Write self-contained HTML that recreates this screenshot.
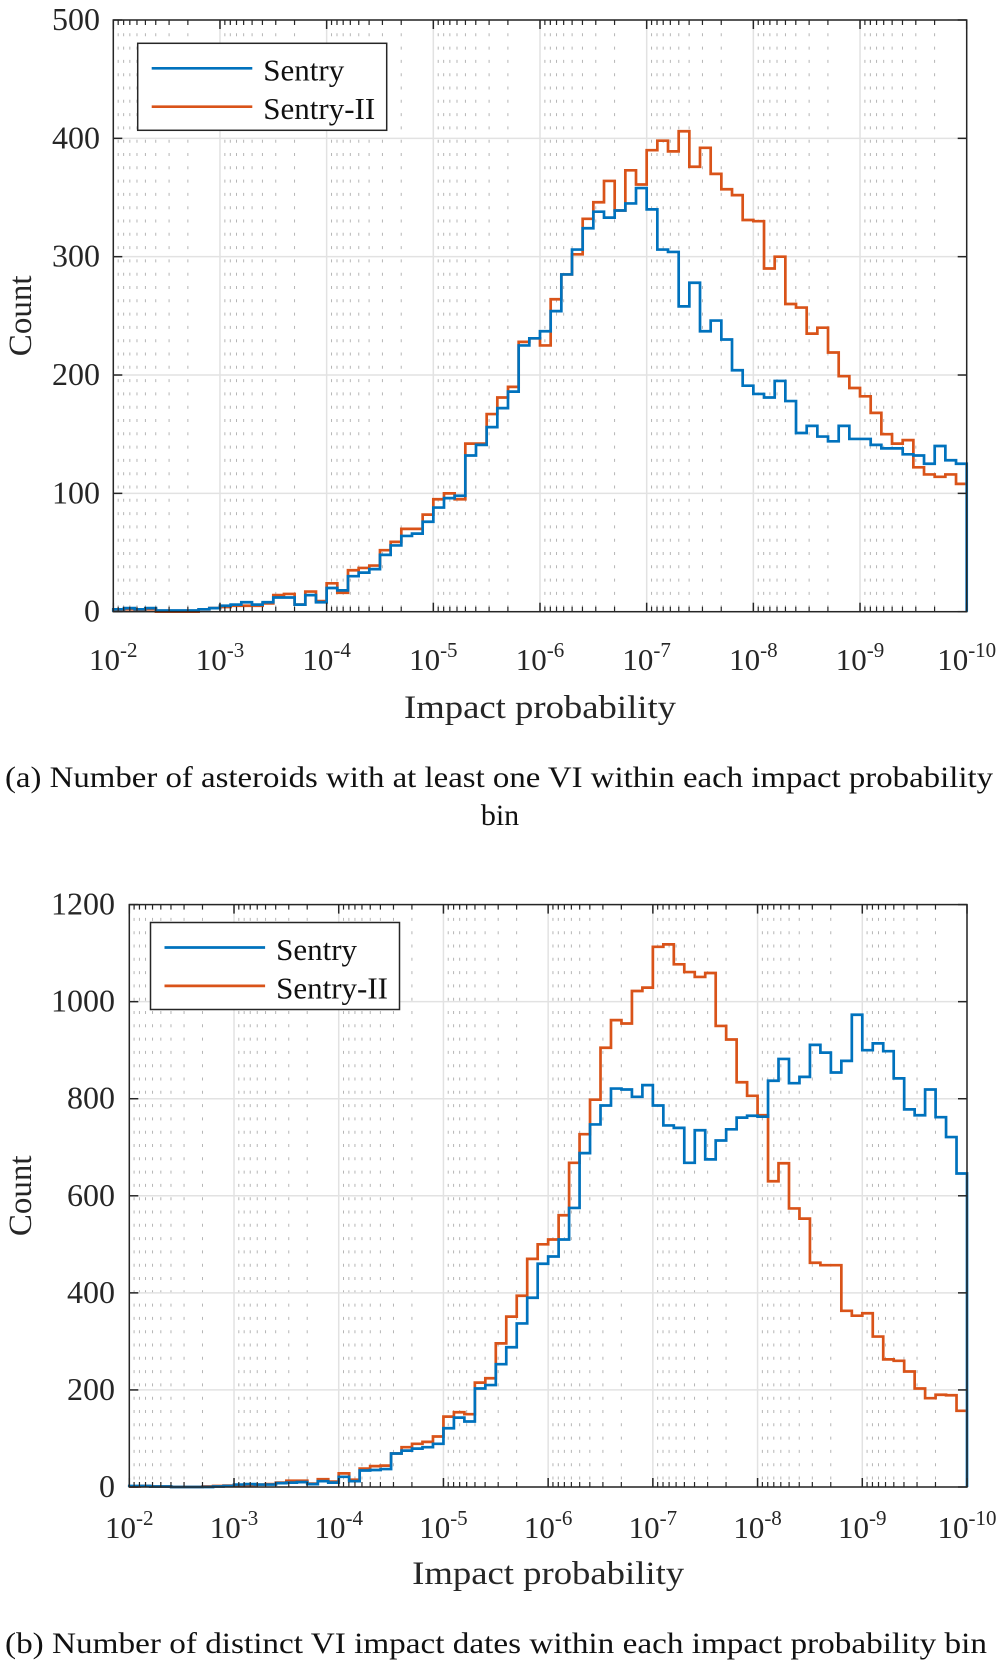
<!DOCTYPE html>
<html><head><meta charset="utf-8"><style>
html,body{margin:0;padding:0;background:#fff;}
svg{display:block;font-family:"Liberation Serif","Times New Roman","Noto Serif CJK SC",serif;}
</style></head><body>
<svg id="fig" width="1006" height="1668" viewBox="0 0 1006 1668" xmlns="http://www.w3.org/2000/svg">
<g id="chartA"></g>
<g id="chartB"></g>
<text x="5" y="787" font-size="30" textLength="988" lengthAdjust="spacingAndGlyphs" fill="#111">(a) Number of asteroids with at least one VI within each impact probability</text>
<text x="500" y="825" font-size="30" text-anchor="middle" fill="#111">bin</text>
<text x="5" y="1653" font-size="30" textLength="982" lengthAdjust="spacingAndGlyphs" fill="#111">(b) Number of distinct VI impact dates within each impact probability bin</text>
</svg>
<script>
// ---- data (80 log bins, 10 per decade from 1e-2 to 1e-10) ----
const decadeExps = [-2,-3,-4,-5,-6,-7,-8,-9,-10];
const sentryA = [2,3,2,3,1,1,1,1,2,3, 5,6,8,6,8,12,12,6,14,8, 20,18,30,33,36,48,56,64,66,76,
 88,96,98,132,141,156,172,186,225,231, 237,254,285,306,324,338,333,339,345,358,
 340,306,304,258,278,237,246,230,204,191, 184,181,195,178,151,157,148,144,157,146,
 146,141,138,138,133,132,125,140,128,125];
const sentry2A = [1,2,1,2,0,0,0,0,2,3, 4,5,5,5,7,14,15,6,17,9, 24,16,35,37,39,52,59,70,70,82,
 95,100,95,142,142,167,181,190,228,231, 225,264,285,302,332,346,364,339,373,361,
 390,398,389,406,376,392,370,357,352,331, 330,290,300,260,257,235,240,219,199,189,
 182,168,150,142,145,122,116,114,116,108];
const sentryB = [2,2,1,1,0,0,0,0,1,2, 5,6,5,5,8,9,10,6,12,9, 21,12,34,35,37,69,75,79,82,89,
 121,143,135,203,210,253,288,337,390,460, 475,510,575,688,747,786,821,819,804,828,
 786,745,740,668,735,675,714,737,761,765, 763,837,882,832,845,911,895,854,878,973,
 900,914,898,842,778,766,819,762,721,646];
const sentry2B = [1,2,1,1,0,0,0,1,2,3, 3,4,5,6,9,13,13,7,16,11, 28,15,38,43,44,69,82,89,93,104,
 145,154,150,215,224,296,351,394,470,500, 510,560,668,727,798,905,962,955,1022,1029,
 1113,1118,1077,1061,1051,1059,950,922,834,806, 766,630,667,574,553,462,457,457,363,353,
 358,310,263,260,238,203,183,190,189,157];
const yTicksA = [0,100,200,300,400,500];
const yTicksB = [0,200,400,600,800,1000,1200];
const seriesNames = ["Sentry","Sentry-II"];

const NS = "http://www.w3.org/2000/svg";
function mk(tag, attrs, parent){
  const e = document.createElementNS(NS, tag);
  for (const k in attrs) e.setAttribute(k, attrs[k]);
  parent.appendChild(e); return e;
}
function drawChart(g, cfg, blue, orange, yTicks){
  const L=cfg.x0, R=cfg.x1, T=cfg.top, B=cfg.bot, ymax=yTicks[yTicks.length-1];
  const dec=(R-L)/8;
  const xOf = lg => L + (-2 - lg)*dec;
  const yOf = v => B - v/ymax*(B-T);
  for (let d=0; d<8; d++){
    for (let k=2;k<=9;k++){
      const x = xOf(-3-d+Math.log10(k));
      const ln = mk("line",{x1:x,x2:x,y1:T,y2:B,stroke:"#b5b5b5","stroke-width":1,"stroke-dasharray":"3 10.3"},g);
      
      
    }
  }
  decadeExps.forEach(e=>{
    const x=xOf(e);
    const ln=mk("line",{x1:x,x2:x,y1:T,y2:B,stroke:"#e2e2e2","stroke-width":1.5},g);
    
    
  });
  yTicks.forEach(v=>{
    const y=yOf(v);
    const ln=mk("line",{x1:L,x2:R,y1:y,y2:y,stroke:"#e2e2e2","stroke-width":1.5},g);
    
    
  });
  function stairs(vals, color, name, drop){
    const n=vals.length, w=(R-L)/n;
    let d="M"+L+","+B;
    vals.forEach((v,i)=>{ d+=" V"+yOf(v)+" H"+(L+(i+1)*w); });
    if (drop) d+=" V"+B;
    const p=mk("path",{d:d,fill:"none",stroke:color,"stroke-width":2.7,"stroke-linejoin":"miter"},g);
    
    
  }
  stairs(orange,"#D95319","series-sentry-ii",false);
  stairs(blue,"#0072BD","series-sentry",true);
  const fr=mk("rect",{x:L,y:T,width:R-L,height:B-T,fill:"none",stroke:"#262626","stroke-width":1.5},g);
  
  
  decadeExps.forEach((e,i)=>{
    const x=xOf(e);
    const t1=mk("line",{x1:x,x2:x,y1:B,y2:B-9,stroke:"#262626","stroke-width":1.5},g);
    
    
    const t2=mk("line",{x1:x,x2:x,y1:T,y2:T+9,stroke:"#262626","stroke-width":1.5},g);
    
    
    if (i<8){
      for (let k=2;k<=9;k++){
        const xm=xOf(e-1+Math.log10(k));
        const m1=mk("line",{x1:xm,x2:xm,y1:B,y2:B-5,stroke:"#262626","stroke-width":1.2},g);
        
        
        const m2=mk("line",{x1:xm,x2:xm,y1:T,y2:T+5,stroke:"#262626","stroke-width":1.2},g);
        
        
      }
    }
    const tx=mk("text",{x:x,y:cfg.xLabY,"font-size":31,"text-anchor":"middle",fill:"#262626"},g);
    
    
    const a=mk("tspan",{},tx); a.textContent="10";
    const b=mk("tspan",{dy:-13,"font-size":21},tx); b.textContent=String(e);
  });
  yTicks.forEach(v=>{
    const y=yOf(v);
    const t1=mk("line",{x1:L,x2:L+9,y1:y,y2:y,stroke:"#262626","stroke-width":1.5},g);
    
    
    const t2=mk("line",{x1:R,x2:R-9,y1:y,y2:y,stroke:"#262626","stroke-width":1.5},g);
    
    
    const tx=mk("text",{x:cfg.yLabX,y:y+10,"font-size":32,"text-anchor":"end",fill:"#262626"},g);
    
    
    tx.textContent=String(v);
  });
  const xt=mk("text",{x:(L+R)/2,y:cfg.xTitleY,"font-size":33,"text-anchor":"middle",textLength:272,lengthAdjust:"spacingAndGlyphs",fill:"#262626"},g);
  
  
  xt.textContent="Impact probability";
  const cy=(T+B)/2;
  const yt=mk("text",{x:31,y:cy,"font-size":33,"text-anchor":"middle",transform:"rotate(-90 31 "+cy+")",fill:"#262626"},g);
  
  
  yt.textContent="Count";
  const lx=cfg.legX, ly=cfg.legY;
  const lg=mk("g",{},g);
  
  
  const box=mk("rect",{x:lx,y:ly,width:249,height:87,fill:"#fff",stroke:"#262626","stroke-width":1.5},lg);
  
  
  [["#0072BD",25],["#D95319",63.4]].forEach((c,i)=>{
    const ln=mk("line",{x1:lx+14,x2:lx+114.6,y1:ly+c[1],y2:ly+c[1],stroke:c[0],"stroke-width":2.7},lg);
    
    
    const tx=mk("text",{x:lx+125.6,y:ly+c[1]+12.4,"font-size":31,fill:"#111"},lg);
    
    
    tx.textContent=seriesNames[i];
  });
}
drawChart(document.getElementById("chartA"),
  {x0:113.3,x1:966.7,top:20,bot:611.7,xLabY:670,yLabX:100,xTitleY:718,legX:137.7,legY:43.3},
  sentryA, sentry2A, yTicksA);
drawChart(document.getElementById("chartB"),
  {x0:129.3,x1:967,top:904.6,bot:1487,xLabY:1538,yLabX:115,xTitleY:1584,legX:150.5,legY:922.5},
  sentryB, sentry2B, yTicksB);
</script>
</body></html>
